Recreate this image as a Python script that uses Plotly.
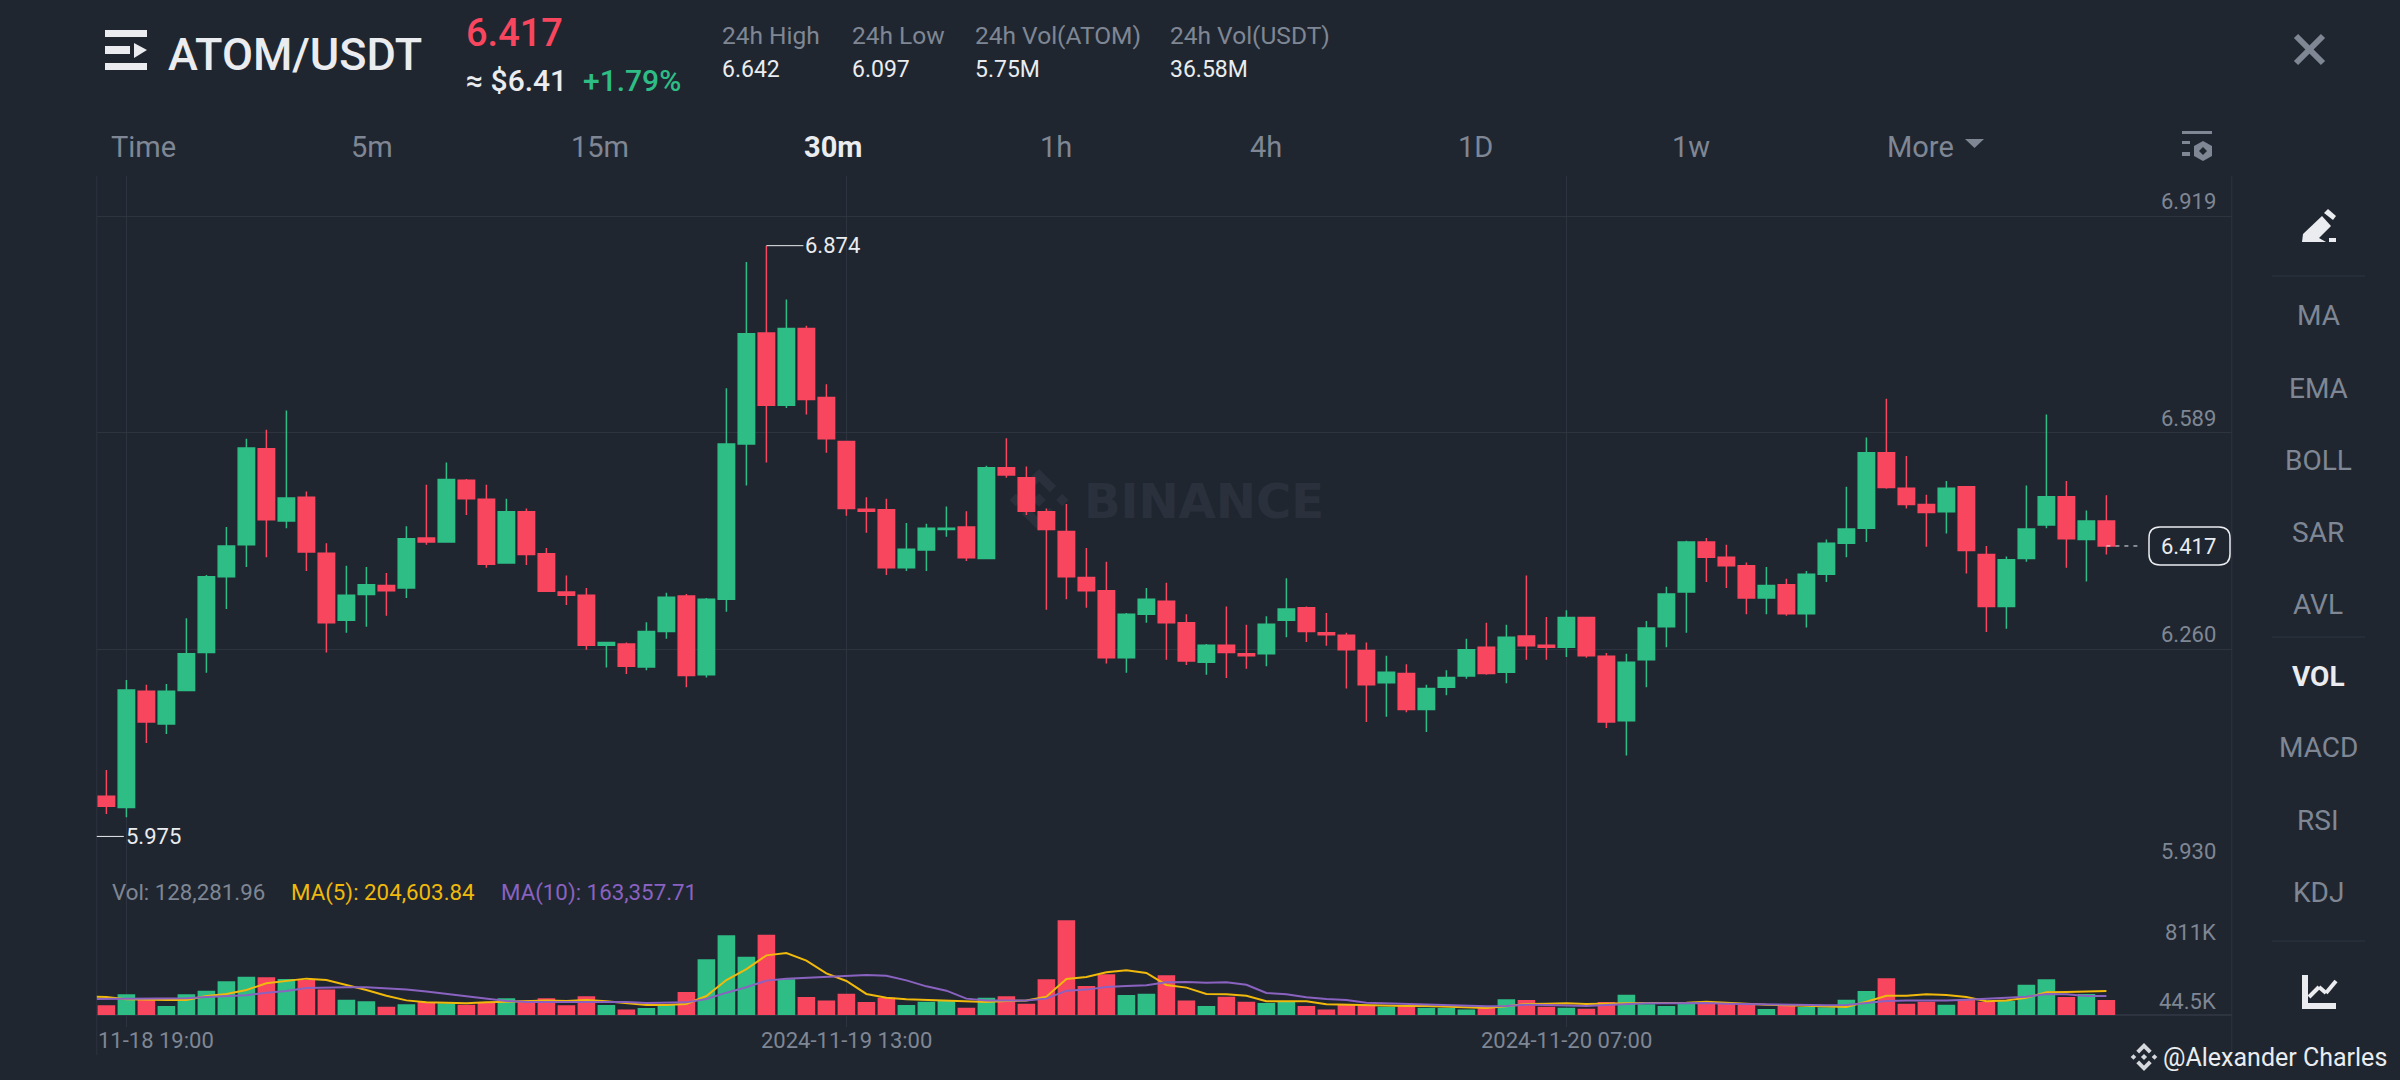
"""ATOM/USDT 30m candles with volume pane, laid out like the Binance mobile chart view."""

import pandas as pd
import plotly.graph_objects as go
from plotly.subplots import make_subplots

WIDTH, HEIGHT = 2400, 1080

BG = "#1f2630"
GRID = "#2d3440"
GREY = "#7f8694"
WHITE = "#eaecef"
GREEN = "#2ebd85"
RED = "#f9465f"
YELLOW = "#f0b90b"
PURPLE = "#8a62c0"
FONT = "Roboto"

opens = [
    6.036, 6.019, 6.196, 6.146, 6.197, 6.255, 6.370, 6.419, 6.565, 6.455,
    6.491, 6.406, 6.304, 6.343, 6.357, 6.353, 6.429, 6.423, 6.517, 6.488,
    6.391, 6.469, 6.405, 6.347, 6.342, 6.266, 6.268, 6.233, 6.287, 6.341,
    6.221, 6.336, 6.572, 6.741, 6.631, 6.748, 6.643, 6.576, 6.473, 6.472,
    6.384, 6.411, 6.442, 6.446, 6.398, 6.536, 6.521, 6.469, 6.439, 6.369,
    6.349, 6.247, 6.313, 6.333, 6.300, 6.240, 6.266, 6.253, 6.253, 6.304,
    6.323, 6.285, 6.281, 6.258, 6.209, 6.223, 6.168, 6.202, 6.219, 6.263,
    6.225, 6.280, 6.266, 6.263, 6.308, 6.249, 6.151, 6.244, 6.294, 6.347,
    6.423, 6.400, 6.387, 6.338, 6.358, 6.314, 6.374, 6.421, 6.444, 6.559,
    6.505, 6.480, 6.469, 6.507, 6.404, 6.325, 6.398, 6.449, 6.492, 6.427,
    6.455,
]
closes = [
    6.021, 6.198, 6.149, 6.196, 6.253, 6.370, 6.417, 6.566, 6.457, 6.490,
    6.408, 6.300, 6.342, 6.358, 6.349, 6.428, 6.423, 6.518, 6.489, 6.389,
    6.469, 6.404, 6.348, 6.342, 6.266, 6.270, 6.234, 6.287, 6.339, 6.220,
    6.336, 6.572, 6.740, 6.631, 6.748, 6.640, 6.580, 6.474, 6.470, 6.384,
    6.412, 6.444, 6.444, 6.399, 6.536, 6.525, 6.470, 6.442, 6.370, 6.349,
    6.247, 6.313, 6.336, 6.300, 6.242, 6.266, 6.255, 6.250, 6.298, 6.321,
    6.287, 6.282, 6.259, 6.206, 6.225, 6.168, 6.200, 6.217, 6.259, 6.223,
    6.278, 6.265, 6.263, 6.308, 6.250, 6.149, 6.240, 6.292, 6.344, 6.423,
    6.400, 6.387, 6.338, 6.357, 6.314, 6.374, 6.421, 6.443, 6.559, 6.506,
    6.480, 6.468, 6.505, 6.410, 6.325, 6.396, 6.443, 6.492, 6.428, 6.455,
    6.417,
]
highs = [
    6.076, 6.213, 6.206, 6.207, 6.307, 6.373, 6.446, 6.580, 6.594, 6.623,
    6.500, 6.421, 6.387, 6.385, 6.376, 6.447, 6.510, 6.544, 6.519, 6.510,
    6.489, 6.474, 6.414, 6.372, 6.353, 6.270, 6.270, 6.301, 6.346, 6.344,
    6.338, 6.657, 6.849, 6.874, 6.792, 6.752, 6.663, 6.576, 6.491, 6.489,
    6.452, 6.451, 6.477, 6.470, 6.539, 6.581, 6.538, 6.474, 6.481, 6.414,
    6.393, 6.315, 6.353, 6.361, 6.313, 6.268, 6.325, 6.297, 6.310, 6.368,
    6.325, 6.315, 6.285, 6.270, 6.250, 6.237, 6.206, 6.228, 6.276, 6.300,
    6.297, 6.372, 6.309, 6.319, 6.309, 6.254, 6.253, 6.303, 6.355, 6.425,
    6.429, 6.419, 6.392, 6.385, 6.367, 6.379, 6.427, 6.507, 6.582, 6.641,
    6.554, 6.495, 6.516, 6.507, 6.417, 6.401, 6.509, 6.617, 6.516, 6.471,
    6.494,
]
lows = [
    6.009, 6.004, 6.117, 6.131, 6.196, 6.224, 6.321, 6.385, 6.400, 6.444,
    6.379, 6.255, 6.285, 6.294, 6.311, 6.338, 6.419, 6.423, 6.464, 6.384,
    6.390, 6.388, 6.347, 6.327, 6.259, 6.232, 6.222, 6.228, 6.276, 6.202,
    6.217, 6.317, 6.509, 6.544, 6.627, 6.617, 6.559, 6.463, 6.437, 6.373,
    6.379, 6.379, 6.431, 6.394, 6.398, 6.521, 6.464, 6.320, 6.336, 6.323,
    6.238, 6.224, 6.300, 6.244, 6.236, 6.221, 6.216, 6.230, 6.234, 6.278,
    6.271, 6.265, 6.200, 6.149, 6.157, 6.164, 6.134, 6.190, 6.215, 6.221,
    6.208, 6.244, 6.244, 6.248, 6.247, 6.140, 6.098, 6.202, 6.263, 6.285,
    6.362, 6.353, 6.313, 6.313, 6.311, 6.293, 6.362, 6.400, 6.423, 6.504,
    6.474, 6.416, 6.436, 6.375, 6.286, 6.291, 6.393, 6.444, 6.384, 6.363,
    6.404,
]
# volumes and their moving averages, in thousands of ATOM
volumes = [
    83, 177, 128, 77, 177, 208, 288, 328, 322, 308,
    299, 219, 131, 117, 71, 91, 111, 100, 88, 105,
    143, 123, 143, 83, 160, 86, 46, 60, 86, 197,
    476, 681, 499, 687, 305, 154, 125, 182, 111, 148,
    86, 114, 123, 63, 148, 160, 97, 305, 811, 248,
    348, 171, 182, 339, 125, 77, 157, 114, 103, 111,
    77, 46, 86, 83, 71, 86, 63, 60, 48, 63,
    134, 128, 71, 63, 54, 111, 174, 91, 77, 97,
    100, 94, 88, 51, 77, 68, 66, 131, 205, 314,
    97, 114, 88, 128, 114, 120, 259, 305, 154, 180,
    128.28,
]
# the averages start one bar earlier: they run off the left edge of the plot
ma5 = [
    160,
    154, 134, 128, 128, 128, 162, 180, 214, 271, 294,
    311, 299, 257, 214, 165, 125, 108, 103, 100, 108,
    114, 120, 123, 120, 128, 117, 100, 86, 86, 94,
    162, 299, 393, 510, 530, 465, 356, 291, 180, 148,
    134, 128, 123, 114, 111, 120, 125, 157, 308, 325,
    365, 382, 359, 257, 234, 180, 177, 165, 117, 117,
    117, 91, 86, 86, 77, 77, 77, 71, 63, 60,
    74, 94, 97, 100, 94, 94, 100, 103, 103, 105,
    114, 108, 97, 88, 83, 77, 71, 68, 114, 165,
    165, 177, 171, 154, 117, 123, 148, 194, 197, 202,
    204.6,
]
ma10 = [
    137,
    137, 137, 140, 140, 143, 154, 160, 168, 191, 205,
    231, 237, 237, 237, 228, 219, 200, 180, 157, 134,
    120, 111, 111, 111, 114, 117, 111, 103, 103, 108,
    137, 191, 237, 294, 311, 319, 328, 339, 342, 336,
    296, 245, 208, 140, 125, 123, 125, 140, 208, 217,
    239, 248, 254, 279, 282, 276, 279, 259, 188, 177,
    151, 137, 128, 105, 100, 100, 91, 86, 80, 74,
    77, 88, 86, 80, 77, 85, 94, 100, 100, 103,
    103, 97, 94, 91, 88, 86, 83, 86, 100, 120,
    123, 123, 125, 131, 140, 143, 157, 180, 177, 162,
    163.36,
]

price_ticks = [6.919, 6.589, 6.260, 5.930]
price_tick_labels = ["6.919", "6.589", "6.260", "5.930"]
time_ticks = ["2024-11-18 19:00", "2024-11-19 13:00", "2024-11-20 07:00"]
time_tick_labels = ["11-18 19:00", "2024-11-19 13:00", "2024-11-20 07:00"]

tabs = ["Time", "5m", "15m", "30m", "1h", "4h", "1D", "1w"]
tab_centers = [143, 372, 600, 833, 1056, 1266, 1475, 1691]
indicators = ["MA", "EMA", "BOLL", "SAR", "AVL", "VOL", "MACD", "RSI", "KDJ"]
stats = [
    ("24h High", "6.642", 720),
    ("24h Low", "6.097", 850),
    ("24h Vol(ATOM)", "5.75M", 973),
    ("24h Vol(USDT)", "36.58M", 1168),
]

times = pd.date_range("2024-11-18 18:30", periods=len(opens), freq="30min")
ma_times = pd.date_range("2024-11-18 18:00", periods=len(ma5), freq="30min")
bar_colors = [GREEN if c >= o else RED for o, c in zip(opens, closes)]


def px(x):
    return x / WIDTH


def py(y):
    return 1 - y / HEIGHT


def label(text, x, y, size, color=GREY, anchor="left", weight=400, family=FONT):
    fig.add_annotation(
        text=text, xref="paper", yref="paper", x=px(x), y=py(y), xanchor=anchor, yanchor="middle",
        showarrow=False, font=dict(family=family, size=size, color=color, weight=weight),
    )


def poly(points, color, layer="above"):
    path = "M " + " L ".join(f"{px(x)} {py(y)}" for x, y in points) + " Z"
    fig.add_shape(type="path", path=path, xref="paper", yref="paper", fillcolor=color, line_width=0, layer=layer)


def rect(x0, y0, x1, y1, color, layer="above"):
    poly([(x0, y0), (x1, y0), (x1, y1), (x0, y1)], color, layer)


def rule(x0, y0, x1, y1, color, width=1, layer="above"):
    fig.add_shape(
        type="line", xref="paper", yref="paper", x0=px(x0), y0=py(y0), x1=px(x1), y1=py(y1),
        line=dict(color=color, width=width), layer=layer,
    )


def logo(cx, cy, s, color, layer="above"):
    top = [(0, -1), (0.55, -0.45), (0.35, -0.25), (0, -0.6), (-0.35, -0.25), (-0.55, -0.45)]
    poly([(cx + a * s, cy + b * s) for a, b in top], color, layer)
    poly([(cx + a * s, cy - b * s) for a, b in top], color, layer)
    for dx, r in [(0, 0.22), (-0.75, 0.2), (0.75, 0.2)]:
        poly(
            [(cx + dx * s, cy - r * s), (cx + dx * s + r * s, cy), (cx + dx * s, cy + r * s), (cx + dx * s - r * s, cy)],
            color, layer,
        )


fig = make_subplots(rows=2, cols=1, shared_xaxes=True)

fig.add_trace(
    go.Candlestick(
        x=times, open=opens, high=highs, low=lows, close=closes,
        increasing=dict(line=dict(color=GREEN, width=1.5), fillcolor=GREEN),
        decreasing=dict(line=dict(color=RED, width=1.5), fillcolor=RED),
        whiskerwidth=0,
    ),
    row=1, col=1,
)
fig.add_trace(go.Bar(x=times, y=volumes, marker_color=bar_colors, marker_line_width=0), row=2, col=1)
fig.add_trace(go.Scatter(x=ma_times, y=ma5, mode="lines", line=dict(color=YELLOW, width=2)), row=2, col=1)
fig.add_trace(go.Scatter(x=ma_times, y=ma10, mode="lines", line=dict(color=PURPLE, width=2)), row=2, col=1)

x_range = [times[0] - pd.Timedelta(minutes=14.4), times[0] + pd.Timedelta(minutes=3188.1)]
x_domain = [px(96.8), px(2231.8)]
for row in (1, 2):
    fig.update_xaxes(
        range=x_range, domain=x_domain, tickvals=time_ticks, showticklabels=False, ticks="",
        showgrid=True, gridcolor=GRID, gridwidth=1, zeroline=False, showline=False,
        rangeslider_visible=False, row=row, col=1,
    )
fig.update_yaxes(
    range=[5.930, 6.980], domain=[py(866), py(176)], tickvals=price_ticks, showticklabels=False, ticks="",
    showgrid=True, gridcolor=GRID, gridwidth=1, zeroline=False, row=1, col=1,
)
fig.update_yaxes(
    range=[-102.6, 1274], domain=[py(1027), py(866)], tickvals=[], showticklabels=False,
    showgrid=False, zeroline=True, zerolinecolor=GRID, zerolinewidth=2, row=2, col=1,
)

fig.update_layout(
    width=WIDTH, height=HEIGHT, margin=dict(l=0, r=0, t=0, b=0), paper_bgcolor=BG, plot_bgcolor=BG,
    showlegend=False, boxgap=0.18, boxgroupgap=0, bargap=0.12, font=dict(family=FONT, color=GREY),
)

# frame of the chart, reaching down past the time labels
rule(96.8, 176, 96.8, 1055, GRID, layer="below")
rule(2231.8, 176, 2231.8, 1055, GRID, layer="below")

# header
rect(105, 30, 147, 37, WHITE)
rect(105, 46, 130, 54, WHITE)
poly([(134, 43), (147, 50), (134, 58)], WHITE)
rect(105, 63, 147, 70, WHITE)
label("ATOM/USDT", 166, 54, 45, WHITE, weight=500)
label("6.417", 464, 33, 38, RED, weight=500)
label("≈ $6.41", 464, 81, 30, WHITE, weight=500)
label("+1.79%", 581, 81, 30, GREEN, weight=500)
for title, value, x in stats:
    label(title, x, 35, 24.5, GREY)
    label(value, x, 70, 23, WHITE)
rule(2296, 36, 2323, 63, GREY, 6)
rule(2323, 36, 2296, 63, GREY, 6)

# interval tabs
for name, x in zip(tabs, tab_centers):
    selected = name == "30m"
    label(name, x, 147, 29, WHITE if selected else GREY, "center", 700 if selected else 400)
label("More", 1920, 147, 29, GREY, "center")
poly([(1965, 139), (1984, 139), (1974.5, 148)], GREY)
rect(2182, 131, 2212, 134, GREY)
rect(2182, 141, 2190, 144, GREY)
rect(2182, 152, 2190, 156, GREY)
poly([(2194, 146), (2203, 141), (2212, 146), (2212, 156), (2203, 161), (2194, 156)], GREY)
poly([(2199, 151), (2203, 147), (2207, 151), (2203, 155)], BG)

# indicator menu
for i, name in enumerate(indicators):
    selected = name == "VOL"
    label(name, 2318, 316 + 72 * i, 28, WHITE if selected else GREY, "center", 700 if selected else 400)
for y in (276, 637, 941):
    rule(2272, y, 2365, y, GRID)
poly([(2302, 242), (2303, 234), (2322, 216), (2331, 226), (2319, 238), (2326, 242)], WHITE)
poly([(2324, 213), (2328, 209), (2336, 216), (2333, 220)], WHITE)
rect(2329, 238, 2336, 242, WHITE)
rect(2302, 975, 2308, 1009, WHITE)
rect(2302, 1003, 2336, 1009, WHITE)
rule(2309, 997, 2319, 987, WHITE, 4)
rule(2319, 987, 2326, 993, WHITE, 4)
rule(2326, 993, 2336, 981, WHITE, 4)

# price and volume axis labels sit just above their levels
for text, y in zip(price_tick_labels, (202, 418, 634, 851)):
    label(text, 2218, y, 22, GREY, "right")
label("811K", 2218, 932, 22, GREY, "right")
label("44.5K", 2218, 1001, 22, GREY, "right")

label(time_tick_labels[0], 96, 1040, 22, GREY)
label(time_tick_labels[1], 846.4, 1040, 22, GREY, "center")
label(time_tick_labels[2], 1566.4, 1040, 22, GREY, "center")

label("Vol: 128,281.96", 110, 892, 22.3, GREY)
label("MA(5): 204,603.84", 289, 892, 22.3, YELLOW)
label("MA(10): 163,357.71", 499, 892, 22.3, PURPLE)

# extreme price callouts
fig.add_annotation(
    x=times[closes.index(6.631)], y=max(highs), xref="x", yref="y", text="6.874", ax=37, ay=0,
    xanchor="left", showarrow=True, arrowhead=0, arrowwidth=1, arrowcolor=WHITE, standoff=0,
    font=dict(family=FONT, size=22, color=WHITE),
)
fig.add_annotation(
    x=x_range[0], y=5.975, xref="x", yref="y", text="5.975", ax=27, ay=0,
    xanchor="left", showarrow=True, arrowhead=0, arrowwidth=1, arrowcolor=WHITE, standoff=0,
    font=dict(family=FONT, size=22, color=WHITE),
)

# last price tag with its dashed lead-in
fig.add_shape(
    type="line", xref="x", yref="y", x0=times[-1], x1=times[-1] + pd.Timedelta(minutes=52), y0=closes[-1], y1=closes[-1],
    line=dict(color=WHITE, width=1, dash="4px,5px"),
)
x0, x1, y0, y1, r = 2149, 2230, 527, 565, 11
tag = (
    f"M {px(x0 + r)} {py(y0)} L {px(x1 - r)} {py(y0)} Q {px(x1)} {py(y0)} {px(x1)} {py(y0 + r)} "
    f"L {px(x1)} {py(y1 - r)} Q {px(x1)} {py(y1)} {px(x1 - r)} {py(y1)} "
    f"L {px(x0 + r)} {py(y1)} Q {px(x0)} {py(y1)} {px(x0)} {py(y1 - r)} "
    f"L {px(x0)} {py(y0 + r)} Q {px(x0)} {py(y0)} {px(x0 + r)} {py(y0)} Z"
)
fig.add_shape(type="path", path=tag, xref="paper", yref="paper", fillcolor=BG, line=dict(color=WHITE, width=1.5))
label("6.417", 2218, 546, 22, WHITE, "right")

# watermarks
logo(1039, 500, 31, "#2b313c", "below")
label("BINANCE", 1082, 501, 48, "#2b313c", weight=700, family="DejaVu Sans")
logo(2144, 1057, 14, "#d5d8dc")
label("@Alexander Charles", 2161, 1057, 25, WHITE)

# the page would otherwise add the browser's default body margin around the figure
fig.write_html(
    "out.html",
    config={"displayModeBar": False},
    post_script="document.body.style.margin='0';document.body.style.background='#1f2630';",
)
